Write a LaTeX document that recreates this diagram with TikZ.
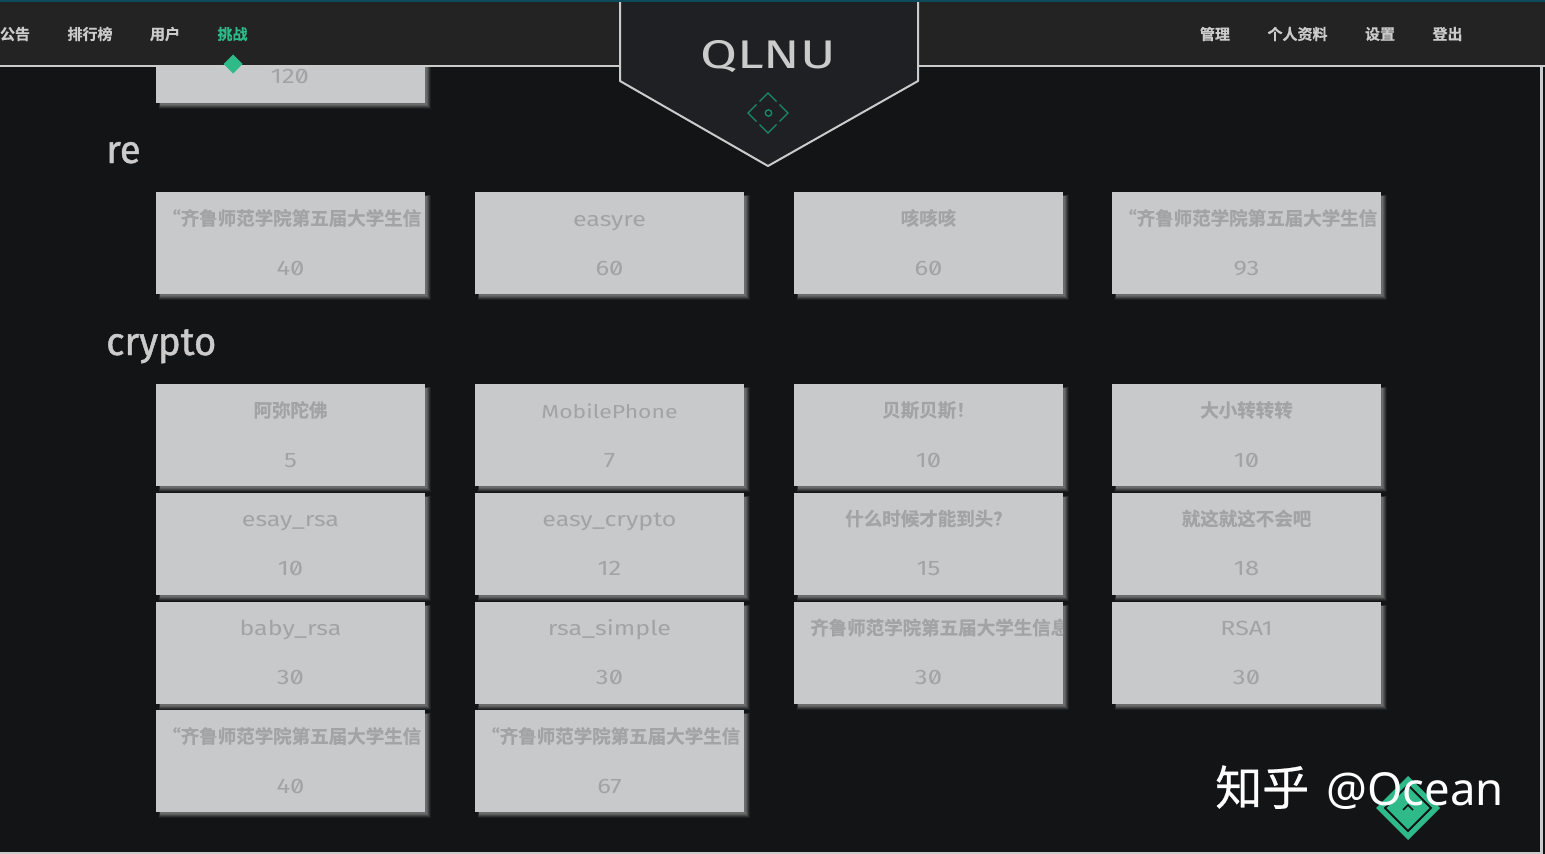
\documentclass[tikz,border=0pt]{standalone}
\usepackage{fontspec}
\newfontfamily\cjkb[FakeBold=0.5]{Noto Sans CJK SC Bold}
\newfontfamily\cjkr[FakeBold=0.5]{Noto Sans CJK SC}
\newfontfamily\techf[FakeStretch=1.22,Numbers=SlashedZero]{Fira Sans}
\newfontfamily\sectf[FakeStretch=0.98,FakeBold=1.2]{Fira Sans}
\newfontfamily\logof[FakeStretch=1.34]{Fira Sans}
\newfontfamily\wmf{Noto Sans}
\definecolor{bodybg}{HTML}{131416}
\definecolor{navbg}{HTML}{232323}
\definecolor{bannerbg}{HTML}{1F2023}
\definecolor{linec}{HTML}{CBCBCB}
\definecolor{cardc}{HTML}{C8C9CB}
\definecolor{cardt}{HTML}{A2A3A5}
\definecolor{shadowc}{HTML}{808080}
\definecolor{greenc}{HTML}{2FBA8A}
\definecolor{greend}{HTML}{1E8A68}
\definecolor{tealc}{HTML}{0C4A5C}
\tikzset{
  cardbox/.style={fill=cardc,draw=none,inner sep=0pt,anchor=north west},
  cardtitle/.style={text=cardt,inner sep=0pt,font=\fontsize{18.5}{20}\cjkb},
  cardtech/.style={text=cardt,inner sep=0pt,anchor=base,yshift=-8pt,font=\fontsize{20.5}{22}\techf},
  scoretext/.style={text=cardt,inner sep=0pt,anchor=base,font=\fontsize{21}{23}\techf},
  navitem/.style={text=linec,inner sep=0pt,font=\fontsize{15}{17}\cjkb},
  section/.style={text=linec,inner sep=0pt,anchor=base west,font=\fontsize{39}{41}\sectf},
}
% name, x, y, height, title style, title, score
\newcommand{\cardat}[7]{%
  \fill[shadowc,opacity=.10] (#2+3,#3+3) rectangle (#2+269+6,#3+#4+6);
  \fill[shadowc,opacity=.18] (#2+3,#3+3) rectangle (#2+269+5,#3+#4+5);
  \fill[shadowc,opacity=.28] (#2+4,#3+4) rectangle (#2+269+4,#3+#4+4);
  \fill[shadowc,opacity=.36] (#2+4,#3+4) rectangle (#2+269+3,#3+#4+3);
  \fill[shadowc,opacity=.45] (#2+4,#3+4) rectangle (#2+269+2,#3+#4+2);
  \node[cardbox,minimum width=269pt,minimum height=#4 pt] (#1) at (#2,#3) {};
  \begin{scope}
    \clip (#2,#3) rectangle (#2+269,#3+#4);
    \node[#5] (#1t) at (#2+134.5,#3+26) {#6};
    \node[scoretext] (#1s) at (#2+134.5,#3+83) {#7};
  \end{scope}}
% same, with an overflowing title that starts at the left padding
\newcommand{\longcard}[6]{%
  \cardat{#1}{#2}{#3}{#4}{cardtitle,opacity=0}{}{#6}
  \begin{scope}
    \clip (#2,#3) rectangle (#2+269,#3+#4);
    \node[cardtitle,anchor=west] (#1l) at (#2+16,#3+26) {#5};
  \end{scope}}
\newcommand{\qtitle}{\hspace*{-10pt}“齐鲁师范学院第五届大学生信}
\begin{document}
\begin{tikzpicture}[x=1pt,y=-1pt]
\useasboundingbox (0,0) rectangle (1545,854);
\fill[bodybg] (0,0) rectangle (1545,854);
% clipped card under the bar
\cardat{top}{156}{0}{103}{cardtitle}{}{}
\node[scoretext] (topscore) at (290,83) {120};
% re
\node[section] (secre) at (106,163) {re};
\longcard{ra}{156}{192}{102}{\qtitle}{40}
\cardat{rb}{475}{192}{102}{cardtech}{easyre}{60}
\cardat{rc}{794}{192}{102}{cardtitle}{咳咳咳}{60}
\longcard{rd}{1112}{192}{102}{\qtitle}{93}
% crypto
\node[section] (seccr) at (106,355) {crypto};
\cardat{ca}{156}{384}{102}{cardtitle}{阿弥陀佛}{5}
\cardat{cb}{475}{384}{102}{cardtech}{{\fontsize{18.8}{20}\techf MobilePhone}}{7}
\cardat{cc}{794}{384}{102}{cardtitle}{贝斯贝斯！}{10}
\cardat{cd}{1112}{384}{102}{cardtitle}{大小转转转}{10}
\cardat{da}{156}{492.5}{102.5}{cardtech}{esay\_rsa}{10}
\cardat{db}{475}{492.5}{102.5}{cardtech}{easy\_crypto}{12}
\cardat{dc}{794}{492.5}{102.5}{cardtitle}{什么时候才能到头？}{15}
\cardat{dd}{1112}{492.5}{102.5}{cardtitle}{就这就这不会吧}{18}
\cardat{ea}{156}{601.5}{102.5}{cardtech}{baby\_rsa}{30}
\cardat{eb}{475}{601.5}{102.5}{cardtech}{rsa\_simple}{30}
\longcard{ec}{794}{601.5}{102.5}{齐鲁师范学院第五届大学生信息}{30}
\cardat{ed}{1112}{601.5}{102.5}{cardtech}{RSA1}{30}
\longcard{fa}{156}{710}{102}{\qtitle}{40}
\longcard{fb}{475}{710}{102}{\qtitle}{67}
% nav bar
\fill[navbg] (0,0) rectangle (1545,65);
\fill[tealc] (0,0) rectangle (1545,2);
\draw[linec,line width=2pt] (0,66) -- (620,66);
\draw[linec,line width=2pt] (918,66) -- (1545,66);
\draw[linec,line width=2.5pt] (1541.5,66) -- (1541.5,854);
\draw[linec,line width=1.5pt] (0,853) -- (1541,853);
\node[navitem] (n1) at (15,34) {公告};
\node[navitem] (n2) at (90,34) {排行榜};
\node[navitem] (n3) at (165,34) {用户};
\node[navitem,text=greenc] (n4) at (232.5,34) {挑战};
\node[navitem] (n5) at (1215,34) {管理};
\node[navitem] (n6) at (1297.5,34) {个人资料};
\node[navitem] (n7) at (1380,34) {设置};
\node[navitem] (n8) at (1447.5,34) {登出};
\fill[greenc] (233,54.5) -- (242.5,64) -- (233,73.5) -- (223.5,64) -- cycle;
% banner
\fill[bannerbg] (620,2) -- (620,81) -- (768,166) -- (918,81) -- (918,2) -- cycle;
\draw[linec,line width=2pt,line join=round] (620,2) -- (620,81) -- (768,166) -- (918,81) -- (918,2);
\node[text=linec,inner sep=0pt,anchor=base,font=\fontsize{40}{42}\logof] (logo) at (768,68) {QLNU};
% banner icon
\begin{scope}[greend,line width=1.3pt]
  \draw (759.5,101.5) -- (768,93) -- (776.5,101.5);
  \draw (779.5,104.5) -- (788,113) -- (779.5,121.5);
  \draw (776.5,124.5) -- (768,133) -- (759.5,124.5);
  \draw (756.5,121.5) -- (748,113) -- (756.5,104.5);
  \draw (768.5,113) circle[radius=3.2];
\end{scope}
% corner diamond and watermark
\fill[greenc] (1408,776) -- (1440,808) -- (1408,840) -- (1376,808) -- cycle;
\draw[bodybg,line width=2pt,line join=miter] (1408,785) -- (1431,808) -- (1408,831) -- (1385,808) -- cycle;
\draw[bodybg,line width=1.5pt] (1403,810) -- (1408,805) -- (1413,810);
\node[text=white,inner sep=0pt,anchor=base west,font=\fontsize{47}{49}\cjkr] (wma) at (1215,805) {知乎};
\node[text=white,inner sep=0pt,anchor=base west,font=\fontsize{45.5}{48}\wmf] (wmb) at (1326,805) {@Ocean};
\end{tikzpicture}
\end{document}
